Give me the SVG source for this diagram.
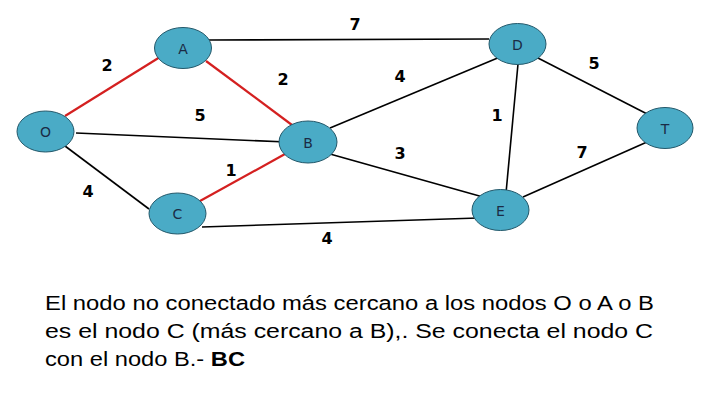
<svg xmlns="http://www.w3.org/2000/svg" width="720" height="405" viewBox="0 0 720 405">
<style>
.e{stroke:#000;stroke-width:1.6;fill:none}
.r{stroke:#d42020;stroke-width:2.2;fill:none}
.n ellipse{fill:#4aabc6;stroke:#23586a;stroke-width:1}
.n text{font-family:"DejaVu Sans",sans-serif;font-size:14px;fill:#1b2b45;text-anchor:middle}
.w{font-family:"DejaVu Sans",sans-serif;font-size:16px;font-weight:bold;fill:#000;text-anchor:middle}
.t{font-family:"Liberation Sans",Arial,sans-serif;font-size:20px;fill:#000}
</style>
<rect width="720" height="405" fill="#fff"/>
<g id="connectors">
<line class="r" x1="65" y1="116" x2="160" y2="57"/>
<line class="r" x1="206" y1="61" x2="292" y2="125"/>
<line class="e" x1="76" y1="133" x2="287" y2="142"/>
<line class="e" x1="65" y1="146" x2="149" y2="209"/>
<line class="r" x1="200" y1="201" x2="285" y2="154"/>
<line class="e" x1="202" y1="227" x2="478" y2="218"/>
<line class="e" x1="208" y1="40" x2="489" y2="39"/>
<line class="e" x1="330" y1="128" x2="500" y2="57"/>
<line class="e" x1="330" y1="154" x2="483" y2="197"/>
<line class="e" x1="518" y1="64" x2="506" y2="193"/>
<line class="e" x1="536" y1="57" x2="653" y2="117"/>
<line class="e" x1="523" y1="197" x2="647" y2="142"/>
<text class="w" x="355" y="30">7</text>
<text class="w" x="107" y="71">2</text>
<text class="w" x="283" y="85">2</text>
<text class="w" x="200" y="121">5</text>
<text class="w" x="400" y="82">4</text>
<text class="w" x="231" y="176">1</text>
<text class="w" x="88" y="197">4</text>
<text class="w" x="400" y="159">3</text>
<text class="w" x="327" y="244">4</text>
<text class="w" x="497" y="121">1</text>
<text class="w" x="594" y="69">5</text>
<text class="w" x="582" y="158">7</text>
</g>
<g id="O" class="n"><ellipse cx="45.5" cy="131.5" rx="28.5" ry="20.5"/><text x="45.5" y="137">O</text></g>
<g id="A" class="n"><ellipse cx="183" cy="48" rx="28.5" ry="20.5"/><text x="183" y="53.5">A</text></g>
<g id="B" class="n"><ellipse cx="308" cy="142" rx="29" ry="21"/><text x="308" y="147.5">B</text></g>
<g id="C" class="n"><ellipse cx="177.5" cy="213.5" rx="28.5" ry="20.5"/><text x="177.5" y="219">C</text></g>
<g id="D" class="n"><ellipse cx="517.5" cy="44" rx="28.5" ry="20.5"/><text x="517.5" y="49.5">D</text></g>
<g id="T" class="n"><ellipse cx="665" cy="128" rx="28" ry="20.5"/><text x="665" y="133.5">T</text></g>
<g id="E" class="n"><ellipse cx="500.5" cy="210" rx="28.5" ry="20.5"/><text x="500.5" y="215.5">E</text></g>
<text class="t" x="45" y="310" textLength="609" lengthAdjust="spacingAndGlyphs">El nodo no conectado más cercano a los nodos O o A o B</text>
<text class="t" x="45" y="338" textLength="608" lengthAdjust="spacingAndGlyphs">es el nodo C (más cercano a B),. Se conecta el nodo C</text>
<text class="t" x="45" y="366" textLength="200" lengthAdjust="spacingAndGlyphs">con el nodo B.- <tspan font-weight="bold">BC</tspan></text>
</svg>
